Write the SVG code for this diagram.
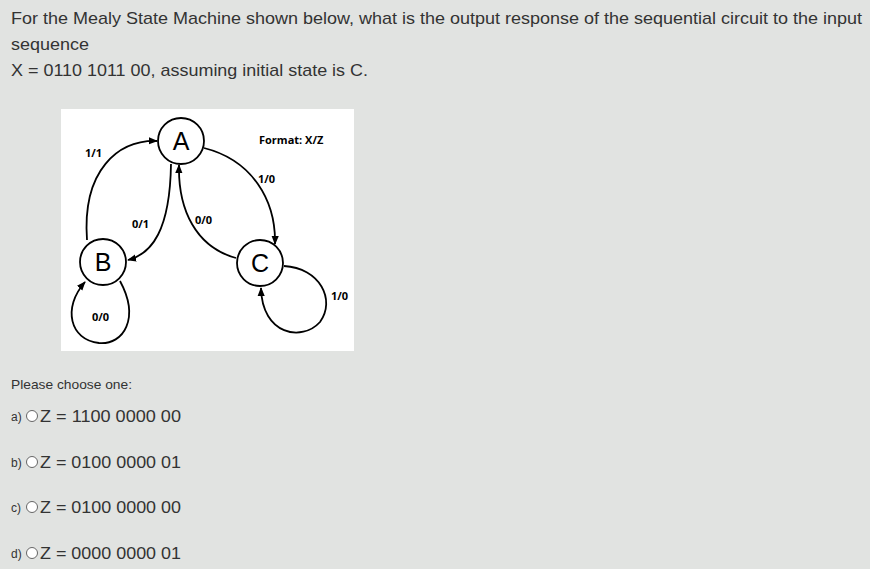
<svg xmlns="http://www.w3.org/2000/svg" width="870" height="569" viewBox="0 0 870 569">
<defs>
<style>
.t{font-family:"Liberation Sans",Arial,sans-serif;fill:#333}
.q{font-size:17px}
.s{font-size:13px}
.st{fill:#fff;stroke:#000;stroke-width:1.8}
.nl{font-family:"Liberation Sans",Arial,sans-serif;font-size:25px;text-anchor:middle;fill:#000}
.el{font-family:"Open Sans","Liberation Sans",sans-serif;font-size:11px;font-weight:bold;fill:#000}
.e{fill:none;stroke:#000;stroke-width:1.8}
.r{fill:#fff;stroke:#666;stroke-width:1}
</style>
<marker id="ar" viewBox="0 0 10 10" refX="9" refY="5" markerWidth="5" markerHeight="5" orient="auto"><path d="M0,1 L10,5 L0,9 z" fill="#000"/></marker>
</defs>
<rect width="870" height="569" fill="#e1e3e1"/>
<text class="t q" x="11" y="24" textLength="851" lengthAdjust="spacingAndGlyphs">For the Mealy State Machine shown below, what is the output response of the sequential circuit to the input</text>
<text class="t q" x="11" y="50" textLength="78" lengthAdjust="spacingAndGlyphs">sequence</text>
<text class="t q" x="11" y="76" textLength="357" lengthAdjust="spacingAndGlyphs">X = 0110 1011 00, assuming initial state is C.</text>
<rect x="61" y="109" width="293" height="242" fill="#fff"/>
<g id="connectors">
<path class="e" marker-end="url(#ar)" d="M87,240 C82,170 118,140 157,141"/>
<path class="e" marker-end="url(#ar)" d="M171,164 C170,230 152,254 128,260"/>
<path class="e" marker-end="url(#ar)" d="M236,258 C196,247 178,210 179,165"/>
<path class="e" marker-end="url(#ar)" d="M204,148 C252,160 276,200 275,244"/>
<path class="e" marker-end="url(#ar)" d="M120,281 C140,318 124,345 99,343 C70,340 62,308 85,282"/>
<path class="e" marker-end="url(#ar)" d="M284,266 C320,268 336,300 320,322 C302,342 262,335 261,288"/>
</g>
<g id="A"><circle class="st" cx="181" cy="141" r="23"/><text class="nl" x="181" y="150">A</text></g>
<g id="B"><circle class="st" cx="103" cy="262" r="23"/><text class="nl" x="103" y="271">B</text></g>
<g id="C"><circle class="st" cx="260" cy="263" r="23"/><text class="nl" x="260" y="272">C</text></g>
<g id="labels">
<text class="el" x="85" y="157">1/1</text>
<text class="el" x="132" y="228">0/1</text>
<text class="el" x="195" y="224">0/0</text>
<text class="el" x="258" y="183">1/0</text>
<text class="el" x="259" y="144">Format: X/Z</text>
<text class="el" x="331" y="300">1/0</text>
<text class="el" x="92" y="321">0/0</text>
</g>
<text class="t s" x="11" y="389" textLength="121" lengthAdjust="spacingAndGlyphs">Please choose one:</text>
<g id="opts">
<text class="t" font-size="12" x="11" y="421">a)</text><circle class="r" cx="32" cy="416" r="5.5"/><text class="t q" x="40" y="422" textLength="141" lengthAdjust="spacingAndGlyphs">Z = 1100 0000 00</text>
<text class="t" font-size="12" x="11" y="467">b)</text><circle class="r" cx="32" cy="462" r="5.5"/><text class="t q" x="40" y="468" textLength="141" lengthAdjust="spacingAndGlyphs">Z = 0100 0000 01</text>
<text class="t" font-size="12" x="11" y="512">c)</text><circle class="r" cx="32" cy="507" r="5.5"/><text class="t q" x="40" y="513" textLength="141" lengthAdjust="spacingAndGlyphs">Z = 0100 0000 00</text>
<text class="t" font-size="12" x="11" y="558">d)</text><circle class="r" cx="32" cy="553" r="5.5"/><text class="t q" x="40" y="559" textLength="141" lengthAdjust="spacingAndGlyphs">Z = 0000 0000 01</text>
</g>
</svg>
